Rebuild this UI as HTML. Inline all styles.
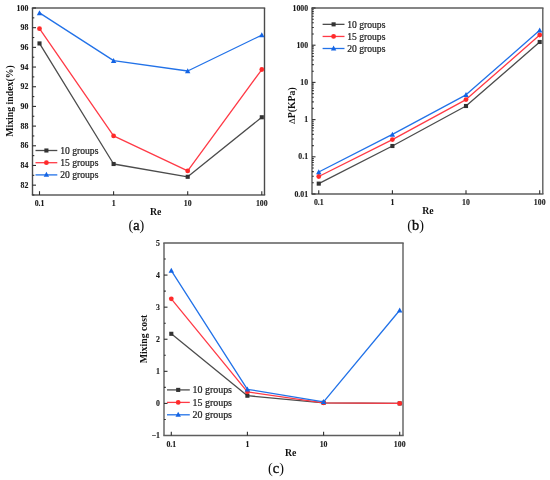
<!DOCTYPE html>
<html><head><meta charset="utf-8"><title>Mixing performance charts</title>
<style>
html,body{margin:0;padding:0;background:#fff;}
body{width:550px;height:480px;overflow:hidden;}
svg{display:block;}
text{font-family:"Liberation Serif","Times New Roman",serif;}
.tk{font-weight:bold;fill:#1a1a1a;stroke:#1a1a1a;stroke-width:0.12;}
.lb{font-weight:bold;fill:#111;}
.lg{fill:#1e1e1e;stroke:#1e1e1e;stroke-width:0.22;}
.cp{fill:#111;} .cp tspan{stroke:#111;stroke-width:0.4;}
</style></head>
<body>
<svg width="550" height="480" viewBox="0 0 550 480">
<rect width="550" height="480" fill="#fff"/>
<path d="M31.8 8H265.2M31.8 195H265.2" stroke="#5e5e5e" stroke-width="1.4" fill="none"/><path d="M32.5 8V195M264.5 8V195" stroke="#4a4a4a" stroke-width="1.4" fill="none"/>
<line x1="32.5" y1="185.16" x2="36" y2="185.16" stroke="#2e2e2e" stroke-width="1.1"/><line x1="32.5" y1="165.47" x2="36" y2="165.47" stroke="#2e2e2e" stroke-width="1.1"/><line x1="32.5" y1="145.79" x2="36" y2="145.79" stroke="#2e2e2e" stroke-width="1.1"/><line x1="32.5" y1="126.11" x2="36" y2="126.11" stroke="#2e2e2e" stroke-width="1.1"/><line x1="32.5" y1="106.42" x2="36" y2="106.42" stroke="#2e2e2e" stroke-width="1.1"/><line x1="32.5" y1="86.74" x2="36" y2="86.74" stroke="#2e2e2e" stroke-width="1.1"/><line x1="32.5" y1="67.05" x2="36" y2="67.05" stroke="#2e2e2e" stroke-width="1.1"/><line x1="32.5" y1="47.37" x2="36" y2="47.37" stroke="#2e2e2e" stroke-width="1.1"/><line x1="32.5" y1="27.68" x2="36" y2="27.68" stroke="#2e2e2e" stroke-width="1.1"/><line x1="32.5" y1="8" x2="36" y2="8" stroke="#2e2e2e" stroke-width="1.1"/><line x1="32.5" y1="195" x2="34.3" y2="195" stroke="#2e2e2e" stroke-width="1.1"/><line x1="32.5" y1="175.32" x2="34.3" y2="175.32" stroke="#2e2e2e" stroke-width="1.1"/><line x1="32.5" y1="155.63" x2="34.3" y2="155.63" stroke="#2e2e2e" stroke-width="1.1"/><line x1="32.5" y1="135.95" x2="34.3" y2="135.95" stroke="#2e2e2e" stroke-width="1.1"/><line x1="32.5" y1="116.26" x2="34.3" y2="116.26" stroke="#2e2e2e" stroke-width="1.1"/><line x1="32.5" y1="96.58" x2="34.3" y2="96.58" stroke="#2e2e2e" stroke-width="1.1"/><line x1="32.5" y1="76.89" x2="34.3" y2="76.89" stroke="#2e2e2e" stroke-width="1.1"/><line x1="32.5" y1="57.21" x2="34.3" y2="57.21" stroke="#2e2e2e" stroke-width="1.1"/><line x1="32.5" y1="37.53" x2="34.3" y2="37.53" stroke="#2e2e2e" stroke-width="1.1"/><line x1="32.5" y1="17.84" x2="34.3" y2="17.84" stroke="#2e2e2e" stroke-width="1.1"/><text x="28.3" y="187.81" font-size="7.8" class="tk" text-anchor="end">82</text><text x="28.3" y="168.13" font-size="7.8" class="tk" text-anchor="end">84</text><text x="28.3" y="148.44" font-size="7.8" class="tk" text-anchor="end">86</text><text x="28.3" y="128.76" font-size="7.8" class="tk" text-anchor="end">88</text><text x="28.3" y="109.07" font-size="7.8" class="tk" text-anchor="end">90</text><text x="28.3" y="89.39" font-size="7.8" class="tk" text-anchor="end">92</text><text x="28.3" y="69.7" font-size="7.8" class="tk" text-anchor="end">94</text><text x="28.3" y="50.02" font-size="7.8" class="tk" text-anchor="end">96</text><text x="28.3" y="30.34" font-size="7.8" class="tk" text-anchor="end">98</text><text x="28.3" y="10.65" font-size="7.8" class="tk" text-anchor="end">100</text>
<line x1="39.5" y1="195" x2="39.5" y2="191.2" stroke="#2e2e2e" stroke-width="1.1"/><line x1="113.6" y1="195" x2="113.6" y2="191.2" stroke="#2e2e2e" stroke-width="1.1"/><line x1="187.7" y1="195" x2="187.7" y2="191.2" stroke="#2e2e2e" stroke-width="1.1"/><line x1="261.8" y1="195" x2="261.8" y2="191.2" stroke="#2e2e2e" stroke-width="1.1"/><text x="39.5" y="205.5" font-size="7.8" class="tk" text-anchor="middle">0.1</text><text x="113.6" y="205.5" font-size="7.8" class="tk" text-anchor="middle">1</text><text x="187.7" y="205.5" font-size="7.8" class="tk" text-anchor="middle">10</text><text x="261.8" y="205.5" font-size="7.8" class="tk" text-anchor="middle">100</text>
<polyline points="39.5,43.43 113.6,164 187.7,176.79 261.8,117.25" fill="none" stroke="#4c4c4c" stroke-width="1.3" stroke-linejoin="round"/><rect x="37.45" y="41.38" width="4.1" height="4.1" fill="#333333"/><rect x="111.55" y="161.95" width="4.1" height="4.1" fill="#333333"/><rect x="185.65" y="174.74" width="4.1" height="4.1" fill="#333333"/><rect x="259.75" y="115.2" width="4.1" height="4.1" fill="#333333"/>
<polyline points="39.5,28.67 113.6,135.95 187.7,170.89 261.8,69.51" fill="none" stroke="#ff3a46" stroke-width="1.3" stroke-linejoin="round"/><circle cx="39.5" cy="28.67" r="2.4" fill="#ff2a2a"/><circle cx="113.6" cy="135.95" r="2.4" fill="#ff2a2a"/><circle cx="187.7" cy="170.89" r="2.4" fill="#ff2a2a"/><circle cx="261.8" cy="69.51" r="2.4" fill="#ff2a2a"/>
<polyline points="39.5,12.92 113.6,60.66 187.7,70.99 261.8,35.07" fill="none" stroke="#2272e8" stroke-width="1.3" stroke-linejoin="round"/><polygon points="39.5,10.17 36.8,15.17 42.2,15.17" fill="#1464e4"/><polygon points="113.6,57.91 110.9,62.91 116.3,62.91" fill="#1464e4"/><polygon points="187.7,68.24 185,73.24 190.4,73.24" fill="#1464e4"/><polygon points="261.8,32.32 259.1,37.32 264.5,37.32" fill="#1464e4"/>
<line x1="35.5" y1="150.5" x2="57.3" y2="150.5" stroke="#4c4c4c" stroke-width="1.3"/><rect x="44.35" y="148.45" width="4.1" height="4.1" fill="#333333"/><text x="60.3" y="153.67" font-size="9.6" class="lg">10 groups</text><line x1="35.5" y1="162.7" x2="57.3" y2="162.7" stroke="#ff3a46" stroke-width="1.3"/><circle cx="46.4" cy="162.7" r="2.4" fill="#ff2a2a"/><text x="60.3" y="165.87" font-size="9.6" class="lg">15 groups</text><line x1="35.5" y1="174.9" x2="57.3" y2="174.9" stroke="#2272e8" stroke-width="1.3"/><polygon points="46.4,171.8 43.7,176.8 49.1,176.8" fill="#1464e4"/><text x="60.3" y="178.07" font-size="9.6" class="lg">20 groups</text>
<text x="12.6" y="101" font-size="9.8" class="lb" text-anchor="middle" transform="rotate(-90 12.6 101)">Mixing index(%)</text>
<text x="155.7" y="214.9" font-size="9.8" class="lb" text-anchor="middle">Re</text>
<text x="136.4" y="229.6" font-size="14.3" class="cp" text-anchor="middle">(<tspan>a</tspan>)</text>
<path d="M311.3 8H543.5M311.3 194H543.5" stroke="#5e5e5e" stroke-width="1.4" fill="none"/><path d="M312 8V194M542.8 8V194" stroke="#5e5e5e" stroke-width="1.4" fill="none"/>
<line x1="312" y1="194" x2="315.5" y2="194" stroke="#2e2e2e" stroke-width="1.1"/><line x1="312" y1="156.8" x2="315.5" y2="156.8" stroke="#2e2e2e" stroke-width="1.1"/><line x1="312" y1="119.6" x2="315.5" y2="119.6" stroke="#2e2e2e" stroke-width="1.1"/><line x1="312" y1="82.4" x2="315.5" y2="82.4" stroke="#2e2e2e" stroke-width="1.1"/><line x1="312" y1="45.2" x2="315.5" y2="45.2" stroke="#2e2e2e" stroke-width="1.1"/><line x1="312" y1="8" x2="315.5" y2="8" stroke="#2e2e2e" stroke-width="1.1"/><line x1="312" y1="182.8" x2="313.8" y2="182.8" stroke="#2e2e2e" stroke-width="1.1"/><line x1="312" y1="176.25" x2="313.8" y2="176.25" stroke="#2e2e2e" stroke-width="1.1"/><line x1="312" y1="171.6" x2="313.8" y2="171.6" stroke="#2e2e2e" stroke-width="1.1"/><line x1="312" y1="168" x2="313.8" y2="168" stroke="#2e2e2e" stroke-width="1.1"/><line x1="312" y1="165.05" x2="313.8" y2="165.05" stroke="#2e2e2e" stroke-width="1.1"/><line x1="312" y1="162.56" x2="313.8" y2="162.56" stroke="#2e2e2e" stroke-width="1.1"/><line x1="312" y1="160.41" x2="313.8" y2="160.41" stroke="#2e2e2e" stroke-width="1.1"/><line x1="312" y1="158.5" x2="313.8" y2="158.5" stroke="#2e2e2e" stroke-width="1.1"/><line x1="312" y1="145.6" x2="313.8" y2="145.6" stroke="#2e2e2e" stroke-width="1.1"/><line x1="312" y1="139.05" x2="313.8" y2="139.05" stroke="#2e2e2e" stroke-width="1.1"/><line x1="312" y1="134.4" x2="313.8" y2="134.4" stroke="#2e2e2e" stroke-width="1.1"/><line x1="312" y1="130.8" x2="313.8" y2="130.8" stroke="#2e2e2e" stroke-width="1.1"/><line x1="312" y1="127.85" x2="313.8" y2="127.85" stroke="#2e2e2e" stroke-width="1.1"/><line x1="312" y1="125.36" x2="313.8" y2="125.36" stroke="#2e2e2e" stroke-width="1.1"/><line x1="312" y1="123.21" x2="313.8" y2="123.21" stroke="#2e2e2e" stroke-width="1.1"/><line x1="312" y1="121.3" x2="313.8" y2="121.3" stroke="#2e2e2e" stroke-width="1.1"/><line x1="312" y1="108.4" x2="313.8" y2="108.4" stroke="#2e2e2e" stroke-width="1.1"/><line x1="312" y1="101.85" x2="313.8" y2="101.85" stroke="#2e2e2e" stroke-width="1.1"/><line x1="312" y1="97.2" x2="313.8" y2="97.2" stroke="#2e2e2e" stroke-width="1.1"/><line x1="312" y1="93.6" x2="313.8" y2="93.6" stroke="#2e2e2e" stroke-width="1.1"/><line x1="312" y1="90.65" x2="313.8" y2="90.65" stroke="#2e2e2e" stroke-width="1.1"/><line x1="312" y1="88.16" x2="313.8" y2="88.16" stroke="#2e2e2e" stroke-width="1.1"/><line x1="312" y1="86.01" x2="313.8" y2="86.01" stroke="#2e2e2e" stroke-width="1.1"/><line x1="312" y1="84.1" x2="313.8" y2="84.1" stroke="#2e2e2e" stroke-width="1.1"/><line x1="312" y1="71.2" x2="313.8" y2="71.2" stroke="#2e2e2e" stroke-width="1.1"/><line x1="312" y1="64.65" x2="313.8" y2="64.65" stroke="#2e2e2e" stroke-width="1.1"/><line x1="312" y1="60" x2="313.8" y2="60" stroke="#2e2e2e" stroke-width="1.1"/><line x1="312" y1="56.4" x2="313.8" y2="56.4" stroke="#2e2e2e" stroke-width="1.1"/><line x1="312" y1="53.45" x2="313.8" y2="53.45" stroke="#2e2e2e" stroke-width="1.1"/><line x1="312" y1="50.96" x2="313.8" y2="50.96" stroke="#2e2e2e" stroke-width="1.1"/><line x1="312" y1="48.81" x2="313.8" y2="48.81" stroke="#2e2e2e" stroke-width="1.1"/><line x1="312" y1="46.9" x2="313.8" y2="46.9" stroke="#2e2e2e" stroke-width="1.1"/><line x1="312" y1="34" x2="313.8" y2="34" stroke="#2e2e2e" stroke-width="1.1"/><line x1="312" y1="27.45" x2="313.8" y2="27.45" stroke="#2e2e2e" stroke-width="1.1"/><line x1="312" y1="22.8" x2="313.8" y2="22.8" stroke="#2e2e2e" stroke-width="1.1"/><line x1="312" y1="19.2" x2="313.8" y2="19.2" stroke="#2e2e2e" stroke-width="1.1"/><line x1="312" y1="16.25" x2="313.8" y2="16.25" stroke="#2e2e2e" stroke-width="1.1"/><line x1="312" y1="13.76" x2="313.8" y2="13.76" stroke="#2e2e2e" stroke-width="1.1"/><line x1="312" y1="11.61" x2="313.8" y2="11.61" stroke="#2e2e2e" stroke-width="1.1"/><line x1="312" y1="9.7" x2="313.8" y2="9.7" stroke="#2e2e2e" stroke-width="1.1"/><text x="308.1" y="196.65" font-size="7.8" class="tk" text-anchor="end">0.01</text><text x="308.1" y="159.45" font-size="7.8" class="tk" text-anchor="end">0.1</text><text x="308.1" y="122.25" font-size="7.8" class="tk" text-anchor="end">1</text><text x="308.1" y="85.05" font-size="7.8" class="tk" text-anchor="end">10</text><text x="308.1" y="47.85" font-size="7.8" class="tk" text-anchor="end">100</text><text x="308.1" y="10.65" font-size="7.8" class="tk" text-anchor="end">1000</text>
<line x1="318.75" y1="194" x2="318.75" y2="190.2" stroke="#2e2e2e" stroke-width="1.1"/><line x1="392.4" y1="194" x2="392.4" y2="190.2" stroke="#2e2e2e" stroke-width="1.1"/><line x1="466" y1="194" x2="466" y2="190.2" stroke="#2e2e2e" stroke-width="1.1"/><line x1="539.7" y1="194" x2="539.7" y2="190.2" stroke="#2e2e2e" stroke-width="1.1"/><text x="318.75" y="204.6" font-size="7.8" class="tk" text-anchor="middle">0.1</text><text x="392.4" y="204.6" font-size="7.8" class="tk" text-anchor="middle">1</text><text x="466" y="204.6" font-size="7.8" class="tk" text-anchor="middle">10</text><text x="539.7" y="204.6" font-size="7.8" class="tk" text-anchor="middle">100</text>
<polyline points="318.75,183.63 392.4,146.01 466,106 539.7,41.99" fill="none" stroke="#4c4c4c" stroke-width="1.3" stroke-linejoin="round"/><rect x="316.7" y="181.58" width="4.1" height="4.1" fill="#333333"/><rect x="390.35" y="143.96" width="4.1" height="4.1" fill="#333333"/><rect x="463.95" y="103.95" width="4.1" height="4.1" fill="#333333"/><rect x="537.65" y="39.94" width="4.1" height="4.1" fill="#333333"/>
<polyline points="318.75,176.52 392.4,139.6 466,99.59 539.7,35" fill="none" stroke="#ff3a46" stroke-width="1.3" stroke-linejoin="round"/><circle cx="318.75" cy="176.52" r="2.4" fill="#ff2a2a"/><circle cx="392.4" cy="139.6" r="2.4" fill="#ff2a2a"/><circle cx="466" cy="99.59" r="2.4" fill="#ff2a2a"/><circle cx="539.7" cy="35" r="2.4" fill="#ff2a2a"/>
<polyline points="318.75,172.01 392.4,134.4 466,94.81 539.7,30.27" fill="none" stroke="#2272e8" stroke-width="1.3" stroke-linejoin="round"/><polygon points="318.75,169.26 316.05,174.26 321.45,174.26" fill="#1464e4"/><polygon points="392.4,131.65 389.7,136.65 395.1,136.65" fill="#1464e4"/><polygon points="466,92.06 463.3,97.06 468.7,97.06" fill="#1464e4"/><polygon points="539.7,27.52 537,32.52 542.4,32.52" fill="#1464e4"/>
<line x1="322.6" y1="24.35" x2="344.5" y2="24.35" stroke="#4c4c4c" stroke-width="1.3"/><rect x="331.55" y="22.3" width="4.1" height="4.1" fill="#333333"/><text x="347.3" y="27.52" font-size="9.6" class="lg">10 groups</text><line x1="322.6" y1="36.45" x2="344.5" y2="36.45" stroke="#ff3a46" stroke-width="1.3"/><circle cx="333.6" cy="36.45" r="2.4" fill="#ff2a2a"/><text x="347.3" y="39.62" font-size="9.6" class="lg">15 groups</text><line x1="322.6" y1="48.5" x2="344.5" y2="48.5" stroke="#2272e8" stroke-width="1.3"/><polygon points="333.6,45.4 330.9,50.4 336.3,50.4" fill="#1464e4"/><text x="347.3" y="51.67" font-size="9.6" class="lg">20 groups</text>
<text x="295" y="105.7" font-size="9.8" class="lb" text-anchor="middle" transform="rotate(-90 295 105.7)"><tspan font-weight="normal" font-size="9">&#916;</tspan>P(KPa)</text>
<text x="428" y="213.7" font-size="9.8" class="lb" text-anchor="middle">Re</text>
<text x="415.6" y="229.8" font-size="14.3" class="cp" text-anchor="middle">(<tspan>b</tspan>)</text>
<path d="M163.3 243H403.7M163.3 435.5H403.7" stroke="#5e5e5e" stroke-width="1.4" fill="none"/><path d="M164 243V435.5M403 243V435.5" stroke="#5e5e5e" stroke-width="1.4" fill="none"/>
<line x1="164" y1="403.42" x2="167.5" y2="403.42" stroke="#2e2e2e" stroke-width="1.1"/><line x1="164" y1="371.33" x2="167.5" y2="371.33" stroke="#2e2e2e" stroke-width="1.1"/><line x1="164" y1="339.25" x2="167.5" y2="339.25" stroke="#2e2e2e" stroke-width="1.1"/><line x1="164" y1="307.17" x2="167.5" y2="307.17" stroke="#2e2e2e" stroke-width="1.1"/><line x1="164" y1="275.08" x2="167.5" y2="275.08" stroke="#2e2e2e" stroke-width="1.1"/><line x1="164" y1="419.46" x2="165.8" y2="419.46" stroke="#2e2e2e" stroke-width="1.1"/><line x1="164" y1="387.38" x2="165.8" y2="387.38" stroke="#2e2e2e" stroke-width="1.1"/><line x1="164" y1="355.29" x2="165.8" y2="355.29" stroke="#2e2e2e" stroke-width="1.1"/><line x1="164" y1="323.21" x2="165.8" y2="323.21" stroke="#2e2e2e" stroke-width="1.1"/><line x1="164" y1="291.12" x2="165.8" y2="291.12" stroke="#2e2e2e" stroke-width="1.1"/><line x1="164" y1="259.04" x2="165.8" y2="259.04" stroke="#2e2e2e" stroke-width="1.1"/><text x="160" y="438.15" font-size="7.8" class="tk" text-anchor="end">&#8722;1</text><text x="160" y="406.07" font-size="7.8" class="tk" text-anchor="end">0</text><text x="160" y="373.99" font-size="7.8" class="tk" text-anchor="end">1</text><text x="160" y="341.9" font-size="7.8" class="tk" text-anchor="end">2</text><text x="160" y="309.82" font-size="7.8" class="tk" text-anchor="end">3</text><text x="160" y="277.74" font-size="7.8" class="tk" text-anchor="end">4</text><text x="160" y="245.65" font-size="7.8" class="tk" text-anchor="end">5</text>
<line x1="171.3" y1="435.5" x2="171.3" y2="431.7" stroke="#2e2e2e" stroke-width="1.1"/><line x1="247.4" y1="435.5" x2="247.4" y2="431.7" stroke="#2e2e2e" stroke-width="1.1"/><line x1="323.6" y1="435.5" x2="323.6" y2="431.7" stroke="#2e2e2e" stroke-width="1.1"/><line x1="399.7" y1="435.5" x2="399.7" y2="431.7" stroke="#2e2e2e" stroke-width="1.1"/><text x="171.3" y="446.6" font-size="7.8" class="tk" text-anchor="middle">0.1</text><text x="247.4" y="446.6" font-size="7.8" class="tk" text-anchor="middle">1</text><text x="323.6" y="446.6" font-size="7.8" class="tk" text-anchor="middle">10</text><text x="399.7" y="446.6" font-size="7.8" class="tk" text-anchor="middle">100</text>
<polyline points="171.3,333.8 247.4,395.72 323.6,402.78 399.7,403.42" fill="none" stroke="#4c4c4c" stroke-width="1.3" stroke-linejoin="round"/><rect x="169.25" y="331.75" width="4.1" height="4.1" fill="#333333"/><rect x="245.35" y="393.67" width="4.1" height="4.1" fill="#333333"/><rect x="321.55" y="400.73" width="4.1" height="4.1" fill="#333333"/><rect x="397.65" y="401.37" width="4.1" height="4.1" fill="#333333"/>
<polyline points="171.3,298.82 247.4,391.87 323.6,402.78 399.7,403.42" fill="none" stroke="#ff3a46" stroke-width="1.3" stroke-linejoin="round"/><circle cx="171.3" cy="298.82" r="2.4" fill="#ff2a2a"/><circle cx="247.4" cy="391.87" r="2.4" fill="#ff2a2a"/><circle cx="323.6" cy="402.78" r="2.4" fill="#ff2a2a"/><circle cx="399.7" cy="403.42" r="2.4" fill="#ff2a2a"/>
<polyline points="171.3,270.59 247.4,389.3 323.6,401.81 399.7,310.21" fill="none" stroke="#2272e8" stroke-width="1.3" stroke-linejoin="round"/><polygon points="171.3,267.84 168.6,272.84 174,272.84" fill="#1464e4"/><polygon points="247.4,386.55 244.7,391.55 250.1,391.55" fill="#1464e4"/><polygon points="323.6,399.06 320.9,404.06 326.3,404.06" fill="#1464e4"/><polygon points="399.7,307.46 397,312.46 402.4,312.46" fill="#1464e4"/>
<line x1="167" y1="389.9" x2="189.8" y2="389.9" stroke="#4c4c4c" stroke-width="1.3"/><rect x="176.15" y="387.85" width="4.1" height="4.1" fill="#333333"/><text x="192.5" y="393.18" font-size="9.95" class="lg">10 groups</text><line x1="167" y1="402.4" x2="189.8" y2="402.4" stroke="#ff3a46" stroke-width="1.3"/><circle cx="178.2" cy="402.4" r="2.4" fill="#ff2a2a"/><text x="192.5" y="405.68" font-size="9.95" class="lg">15 groups</text><line x1="167" y1="414.8" x2="189.8" y2="414.8" stroke="#2272e8" stroke-width="1.3"/><polygon points="178.2,411.7 175.5,416.7 180.9,416.7" fill="#1464e4"/><text x="192.5" y="418.08" font-size="9.95" class="lg">20 groups</text>
<text x="147.1" y="339" font-size="9.8" class="lb" text-anchor="middle" transform="rotate(-90 147.1 339)">Mixing cost</text>
<text x="290.7" y="456.1" font-size="9.8" class="lb" text-anchor="middle">Re</text>
<text x="276" y="472.7" font-size="14.3" class="cp" text-anchor="middle">(<tspan>c</tspan>)</text>
</svg>
</body></html>
